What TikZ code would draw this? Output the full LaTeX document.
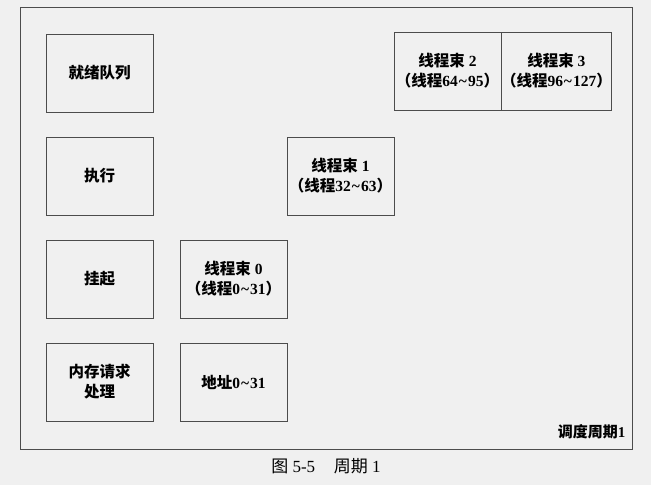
\documentclass[tikz,border=0pt]{standalone}
\usepackage{fontspec}
\setmainfont{Liberation Serif}
\newfontfamily\cjk{Noto Sans CJK SC}
\newcommand{\zh}[1]{{\cjk #1}}
\newcommand{\rng}[2]{#1\kern1pt\textasciitilde\kern1pt#2}
\usetikzlibrary{positioning}

\begin{document}
\begin{tikzpicture}
        [x=1pt,y=-1pt,
         box/.style={rectangle,draw=black!70,line width=1pt,outer sep=0pt,inner xsep=0pt,
                     minimum width=107pt,minimum height=78pt,align=center,
                     font=\fontsize{15.5}{20}\selectfont\bfseries}]
        \fill [black!6] (0,0) rectangle (651,485);
        \useasboundingbox (0,0) rectangle (651,485);
        \node [rectangle,draw=black!70,line width=1pt,outer sep=0pt,minimum width=612pt,minimum height=442pt,name=frame] at (326,228) {};

        \node [box,name=ready] at (99.5,73) {\zh{就绪队列}};
        \node [box,name=exec,below=25pt of ready] {\zh{执行}};
        \node [box,name=susp,below=25pt of exec] {\zh{挂起}};
        \node [box,name=mem,below=25pt of susp] {\zh{内存请求}\\\zh{处理}};
        \node [box,name=w0,right=27pt of susp] {\zh{线程束} 0\\\zh{（线程}\rng{0}{31}\zh{）}};
        \node [box,name=addr,right=27pt of mem] {\zh{地址}\rng{0}{31}};
        \node [box,name=w1,above right=25pt and 0pt of w0] {\zh{线程束} 1\\\zh{（线程}\rng{32}{63}\zh{）}};
        \node [box,name=w2,above right=27pt and 0pt of w1] {\zh{线程束} 2\\\zh{（线程}\rng{64}{95}\zh{）}};
        \node [box,name=w3,right=0pt of w2] {\zh{线程束} 3\\\zh{（线程}\rng{96}{127}\zh{）}};

        \node [anchor=east,font=\fontsize{15}{16}\selectfont\bfseries,name=cycle] at (629,432) {\zh{调度周期}1};
        \node [font=\fontsize{17}{18}\selectfont,name=caption] at (326,466) {\zh{图} 5-5\hspace{1.1em}\zh{周期} 1};
\end{tikzpicture}
\end{document}
